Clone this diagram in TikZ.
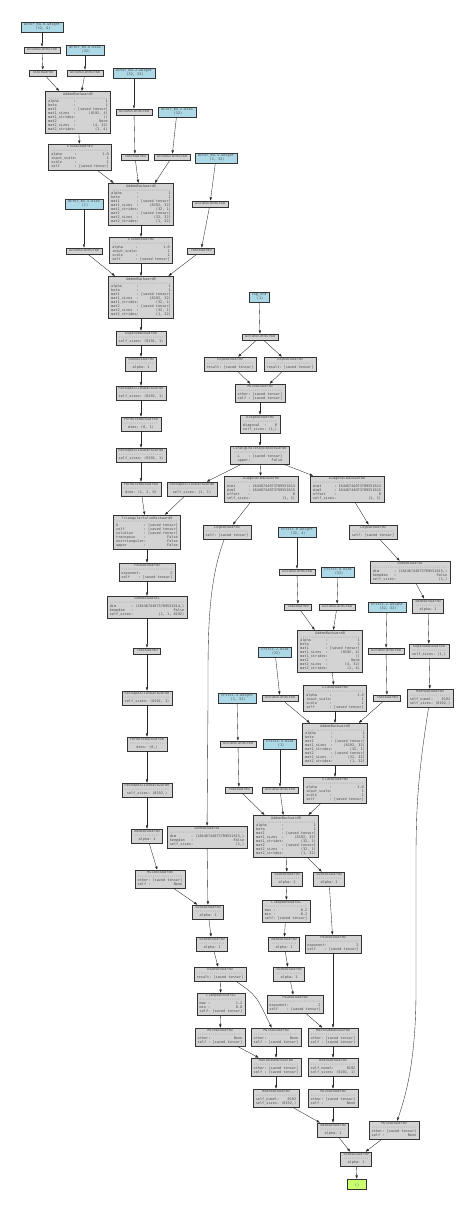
\documentclass[tikz,border=0pt]{standalone}
\usepackage{fontspec}
\usetikzlibrary{arrows.meta,calc}
\newfontfamily\gvmono{DejaVu Sans Mono}
\definecolor{gvgrey}{HTML}{D3D3D3}
\definecolor{gvblue}{HTML}{ADD8E6}
\definecolor{gvgreen}{HTML}{CAFF70}
\ExplSyntaxOn
\cs_new:Npn \sepl #1 {\prg_replicate:nn {#1} {-\kern0pt}}
\ExplSyntaxOff
\newcommand\gvfont{\gvmono\fontsize{3.53}{3.92}\selectfont}
\newcommand\kv[1]{\begin{tabular}[t]{@{}l@{:\ }r@{}}#1\end{tabular}}
\newcommand\fna[3]{\strut #1\\\sepl{#2}\\\kv{#3}}
\newcommand\prmn[2]{\strut #1\\\strut\ #2}
\newcommand\AG{\strut AccumulateGrad}
\newcommand\TB{\strut TBackward0}
\newcommand\eluN{\fna{EluBackward0}{27}{alpha&1.0\\input\_scale&1\\scale&1\\self&[saved tensor]}}
\newcommand\addmmA{\fna{AddmmBackward0}{28}{alpha&1\\beta&1\\mat1&[saved tensor]\\mat1\_sizes&(8192, 4)\\mat1\_strides&()\\mat2&None\\mat2\_sizes&(4, 32)\\mat2\_strides&(1, 4)}}
\newcommand\addmmB{\fna{AddmmBackward0}{28}{alpha&1\\beta&1\\mat1&[saved tensor]\\mat1\_sizes&(8192, 32)\\mat1\_strides&(32, 1)\\mat2&[saved tensor]\\mat2\_sizes&(32, 32)\\mat2\_strides&(1, 32)}}
\newcommand\addmmC{\fna{AddmmBackward0}{28}{alpha&1\\beta&1\\mat1&[saved tensor]\\mat1\_sizes&(8192, 32)\\mat1\_strides&(32, 1)\\mat2&[saved tensor]\\mat2\_sizes&(32, 1)\\mat2\_strides&(1, 32)}}
\newcommand\subN{\fna{SubBackward0}{12}{alpha&1}}
\newcommand\addN{\fna{AddBackward0}{12}{alpha&1}}
\newcommand\powN{\fna{PowBackward0}{24}{exponent&2\\self&[saved tensor]}}
\newcommand\expN{\fna{ExpBackward0}{22}{result&[saved tensor]}}
\newcommand\logN{\fna{LogBackward0}{20}{self&[saved tensor]}}
\newcommand\mulSN{\fna{MulBackward0}{21}{other&[saved tensor]\\self&None}}
\newcommand\mulNS{\fna{MulBackward0}{21}{other&None\\self&[saved tensor]}}
\newcommand\maxN{\fna{MaximumBackward0}{21}{other&[saved tensor]\\self&[saved tensor]}}
\newcommand\diagonalN{\fna{DiagonalBackward0}{32}{dim1&18446744073709551614\\dim2&18446744073709551615\\offset&0\\self\_sizes&(1, 1)}}
\tikzset{
  fn/.style={draw=black!80, fill=gvgrey, text=black!70, line width=0.3pt, inner xsep=2.8pt, inner ysep=1.35pt, align=center, font=\gvfont, minimum width=19pt, minimum height=5.1pt},
  prm/.style={fn, fill=gvblue},
  outn/.style={fn, fill=gvgreen},
  ed/.style={draw=black!85, line width=0.35pt, -{Triangle[length=3.2pt,width=2.3pt]}}
}
\begin{document}
\begin{tikzpicture}[x=1pt,y=-1pt]
\useasboundingbox (0,0) rectangle (474,1211);
\fill[white] (0,0) rectangle (474,1211);
% ---------------- actor mean network
\node[prm] (pm0w) at (42,27) {\prmn{actor\_mu.0.weight}{(32, 4)}};
\node[fn] (ag1) at (42,50) {\AG};
\node[prm] (pm0b) at (85,50) {\prmn{actor\_mu.0.bias}{(32)}};
\node[fn] (t1) at (43,73) {\TB};
\node[fn] (ag2) at (85,73) {\AG};
\node[prm] (pm2w) at (134,73) {\prmn{actor\_mu.2.weight}{(32, 32)}};
\node[fn] (mm1) at (78,112) {\addmmA};
\node[fn] (ag3) at (134,112) {\AG};
\node[prm] (pm2b) at (177,112) {\prmn{actor\_mu.2.bias}{(32)}};
\node[fn] (elu1) at (80,157) {\eluN};
\node[fn] (t2) at (135,157) {\TB};
\node[fn] (ag4) at (172,157) {\AG};
\node[prm] (pm4w) at (216,158) {\prmn{actor\_mu.4.weight}{(1, 32)}};
\node[fn] (mm2) at (141,204) {\addmmB};
\node[prm] (pm4b) at (84,204) {\prmn{actor\_mu.4.bias}{(1)}};
\node[fn] (ag5) at (210,204) {\AG};
\node[fn] (ag6) at (84,251) {\AG};
\node[fn] (elu2) at (141,250) {\eluN};
\node[fn] (t3) at (201,251) {\TB};
\node[fn] (mm3) at (141,297) {\addmmC};
\node[fn] (exd1) at (141,338) {\fna{ExpandBackward0}{21}{self\_sizes&(8192, 1)}};
\node[fn] (sb1) at (141,364) {\subN};
\node[fn] (rs1) at (141,393) {\fna{ReshapeAliasBackward0}{21}{self\_sizes&(8192, 1)}};
\node[fn] (pr1) at (141,424) {\fna{PermuteBackward0}{16}{dims&(0, 1)}};
\node[fn] (rs2) at (141,455) {\fna{ReshapeAliasBackward0}{21}{self\_sizes&(8192, 1)}};
\node[fn] (pr2) at (141,489) {\fna{PermuteBackward0}{16}{dims&(1, 2, 0)}};
\node[fn] (rs3) at (192,489) {\fna{ReshapeAliasBackward0}{21}{self\_sizes&(1, 1)}};
\node[fn] (tri) at (147,532) {\fna{TriangularSolveBackward0}{29}{A&[saved tensor]\\self&[saved tensor]\\solution&[saved tensor]\\transpose&False\\unitriangular&False\\upper&False}};
\node[fn] (pw1) at (147,572) {\powN};
\node[fn] (sm1) at (147,607) {\fna{SumBackward1}{35}{dim&(18446744073709551614,)\\keepdim&False\\self\_sizes&(1, 1, 8192)}};
\node[fn] (t4) at (147,651) {\TB};
\node[fn] (rs4) at (147,698) {\fna{ReshapeAliasBackward0}{21}{self\_sizes&(8192, 1)}};
\node[fn] (pr3) at (147,744) {\fna{PermuteBackward0}{16}{dims&(0,)}};
\node[fn] (rs5) at (147,790) {\fna{ReshapeAliasBackward0}{21}{self\_sizes&(8192,)}};
\node[fn] (ad1) at (147,836) {\addN};
\node[fn] (ml1) at (160,879) {\mulSN};
\node[fn] (sm2) at (207,837) {\fna{SumBackward1}{35}{dim&(18446744073709551615,)\\keepdim&False\\self\_sizes&(1,)}};
\node[fn] (sb2) at (208,912) {\subN};
\node[fn] (sb3) at (212,944) {\subN};
\node[fn] (ex3) at (220,974) {\expN};
\node[fn] (acl) at (221,1004) {\fna{ClampBackward1}{20}{max&1.2\\min&0.8\\self&[saved tensor]}};
\node[fn] (aml1) at (220,1037) {\mulNS};
\node[fn] (aml2) at (276,1037) {\mulNS};
\node[fn] (amx) at (276,1067) {\maxN};
\node[fn] (amn) at (276,1098) {\fna{MeanBackward0}{19}{self\_numel&8192\\self\_sizes&(8192,)}};
% ---------------- log_std branch
\node[prm] (pls) at (259,297) {\prmn{log\_std}{(1)}};
\node[fn] (ag7) at (260,337) {\AG};
\node[fn] (ex1) at (230,364) {\expN};
\node[fn] (ex2) at (290,364) {\expN};
\node[fn] (ml2) at (260,393) {\fna{MulBackward0}{21}{other&[saved tensor]\\self&[saved tensor]}};
\node[fn] (dg) at (260,424) {\fna{DiagBackward0}{16}{diagonal&0\\self\_sizes&(1,)}};
\node[fn] (ch) at (260,455) {\fna{LinalgCholeskyExBackward0}{25}{L&[saved tensor]\\upper&False}};
\node[fn] (dl1) at (261,489) {\diagonalN};
\node[fn] (dl2) at (347,489) {\diagonalN};
\node[fn] (lg1) at (227,532) {\logN};
\node[fn] (lg2) at (373,532) {\logN};
\node[fn] (sm3) at (410,572) {\fna{SumBackward1}{35}{dim&(18446744073709551615,)\\keepdim&False\\self\_sizes&(1,)}};
\node[fn] (ad2) at (428,606) {\addN};
\node[fn] (exd2) at (429,651) {\fna{ExpandBackward0}{16}{self\_sizes&(1,)}};
\node[fn] (mn1) at (430,698) {\fna{MeanBackward0}{19}{self\_numel&8192\\self\_sizes&(8192,)}};
% ---------------- critic
\node[prm] (pc0w) at (297,532) {\prmn{critic.0.weight}{(32, 4)}};
\node[fn] (ag8) at (297,572) {\AG};
\node[prm] (pc0b) at (338,572) {\prmn{critic.0.bias}{(32)}};
\node[fn] (t5) at (298,607) {\TB};
\node[fn] (ag9) at (337,607) {\AG};
\node[prm] (pc2w) at (387,607) {\prmn{critic.2.weight}{(32, 32)}};
\node[fn] (cm1) at (330,651) {\addmmA};
\node[prm] (pc2b) at (275,652) {\prmn{critic.2.bias}{(32)}};
\node[fn] (ag10) at (386,651) {\AG};
\node[fn] (ce1) at (335,698) {\eluN};
\node[fn] (ag11) at (280,698) {\AG};
\node[prm] (pc4w) at (237,698) {\prmn{critic.4.weight}{(1, 32)}};
\node[fn] (t6) at (387,698) {\TB};
\node[fn] (cm2) at (335,744) {\addmmB};
\node[fn] (ag12) at (238,744) {\AG};
\node[prm] (pc4b) at (280,744) {\prmn{critic.4.bias}{(1)}};
\node[fn] (ce2) at (335,790) {\eluN};
\node[fn] (t7) at (239,790) {\TB};
\node[fn] (ag13) at (280,790) {\AG};
\node[fn] (cm3) at (286,836) {\addmmC};
\node[fn] (cs1) at (287,879) {\subN};
\node[fn] (cs2) at (329,879) {\subN};
\node[fn] (ccl) at (286,911) {\fna{ClampBackward1}{20}{max&0.2\\min&-0.2\\self&[saved tensor]}};
\node[fn] (cad) at (284,944) {\addN};
\node[fn] (cpw1) at (333,944) {\powN};
\node[fn] (cs3) at (289,974) {\subN};
\node[fn] (cpw2) at (295,1004) {\powN};
\node[fn] (cmx) at (333,1037) {\maxN};
\node[fn] (cmn) at (333,1067) {\fna{MeanBackward0}{21}{self\_numel&8192\\self\_sizes&(8192, 1)}};
\node[fn] (cml) at (333,1098) {\mulSN};
\node[fn] (ad3) at (333,1130) {\addN};
\node[fn] (ml3) at (394,1130) {\mulSN};
\node[fn] (sbf) at (356,1159) {\subN};
\node[outn] (out) at (357,1184) {\strut\\\strut()};
% ---------------- edges: actor
\draw[ed] (pm0w) -- (ag1);
\draw[ed] (ag1) -- (t1);
\draw[ed] (pm0b) -- (ag2);
\draw[ed] (t1) -- (mm1);
\draw[ed] (ag2) -- (mm1);
\draw[ed] (pm2w) -- (ag3);
\draw[ed] (ag3) -- (t2);
\draw[ed] (pm2b) -- (ag4);
\draw[ed] (mm1) -- (elu1);
\draw[ed] (elu1) -- (mm2);
\draw[ed] (t2) -- (mm2);
\draw[ed] (ag4) -- (mm2);
\draw[ed] (pm4w) -- (ag5);
\draw[ed] (ag5) -- (t3);
\draw[ed] (pm4b) -- (ag6);
\draw[ed] (mm2) -- (elu2);
\draw[ed] (ag6) -- (mm3);
\draw[ed] (elu2) -- (mm3);
\draw[ed] (t3) -- (mm3);
\draw[ed] (mm3) -- (exd1);
\draw[ed] (exd1) -- (sb1);
\draw[ed] (sb1) -- (rs1);
\draw[ed] (rs1) -- (pr1);
\draw[ed] (pr1) -- (rs2);
\draw[ed] (rs2) -- (pr2);
\draw[ed] (pr2) -- (tri);
\draw[ed] (rs3) -- (tri);
\draw[ed] (tri) -- (pw1);
\draw[ed] (pw1) -- (sm1);
\draw[ed] (sm1) -- (t4);
\draw[ed] (t4) -- (rs4);
\draw[ed] (rs4) -- (pr3);
\draw[ed] (pr3) -- (rs5);
\draw[ed] (rs5) -- (ad1);
\draw[ed] (ad1) -- (ml1);
\draw[ed] (ml1) -- (sb2);
\draw[ed] (sm2) -- (sb2);
\draw[ed] (sb2) -- (sb3);
\draw[ed] (sb3) -- (ex3);
\draw[ed] (ex3) -- (acl);
\draw[ed] ($(ex3.south)+(16,0)$) .. controls (256,995) .. (aml2);
\draw[ed] (acl) -- (aml1);
\draw[ed] (aml1) -- (amx);
\draw[ed] (aml2) -- (amx);
\draw[ed] (amx) -- (amn);
\draw[ed] (amn) -- (ad3);
% ---------------- edges: log_std
\draw[ed] (pls) -- (ag7);
\draw[ed] (ag7) -- (ex1);
\draw[ed] (ag7) -- (ex2);
\draw[ed] (ex1) -- (ml2);
\draw[ed] (ex2) -- (ml2);
\draw[ed] (ml2) -- (dg);
\draw[ed] (dg) -- (ch);
\draw[ed] (ch) -- (rs3);
\draw[ed] (ch) -- (dl1);
\draw[ed] (ch) -- (dl2);
\draw[ed] (dl1) -- (lg1);
\draw[ed] (dl2) -- (lg2);
\draw[ed] (lg1) .. controls (207,585) and (208,640) .. (208,700) -- (sm2);
\draw[ed] (lg2) -- (sm3);
\draw[ed] (sm3) -- (ad2);
\draw[ed] (ad2) -- (exd2);
\draw[ed] (exd2) -- (mn1);
\draw[ed] (mn1) .. controls (419,770) and (416,800) .. (416,860) -- (416,990) .. controls (416,1060) and (406,1095) .. (ml3);
\draw[ed] (ml3) -- (sbf);
% ---------------- edges: critic
\draw[ed] (pc0w) -- (ag8);
\draw[ed] (ag8) -- (t5);
\draw[ed] (pc0b) -- (ag9);
\draw[ed] (t5) -- (cm1);
\draw[ed] (ag9) -- (cm1);
\draw[ed] (pc2w) -- (ag10);
\draw[ed] (ag10) -- (t6);
\draw[ed] (pc2b) -- (ag11);
\draw[ed] (cm1) -- (ce1);
\draw[ed] (ce1) -- (cm2);
\draw[ed] (t6) -- (cm2);
\draw[ed] (ag11) -- (cm2);
\draw[ed] (pc4w) -- (ag12);
\draw[ed] (ag12) -- (t7);
\draw[ed] (pc4b) -- (ag13);
\draw[ed] (cm2) -- (ce2);
\draw[ed] (ce2) -- (cm3);
\draw[ed] (t7) -- (cm3);
\draw[ed] (ag13) -- (cm3);
\draw[ed] (cm3) -- (cs1);
\draw[ed] (cm3) -- (cs2);
\draw[ed] (cs1) -- (ccl);
\draw[ed] (ccl) -- (cad);
\draw[ed] (cad) -- (cs3);
\draw[ed] (cs3) -- (cpw2);
\draw[ed] (cs2) -- (cpw1);
\draw[ed] (cpw2) -- (cmx);
\draw[ed] (cpw1) -- (cmx);
\draw[ed] (cmx) -- (cmn);
\draw[ed] (cmn) -- (cml);
\draw[ed] (cml) -- (ad3);
\draw[ed] (ad3) -- (sbf);
\draw[ed] (sbf) -- (out);
\end{tikzpicture}
\end{document}
